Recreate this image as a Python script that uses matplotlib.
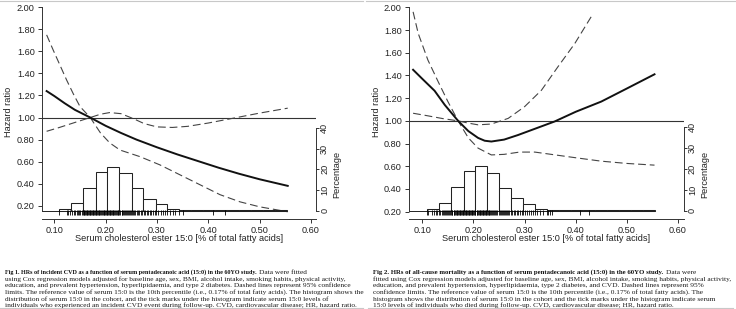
"""
Serum 15:0 vs hazard ratio - two panels with captions
"""

import matplotlib
matplotlib.use('Agg')
import matplotlib.pyplot as plt
from matplotlib.lines import Line2D

W, H = 736, 309
SANS = ['Liberation Sans', 'DejaVu Sans']
SERIF = ['Liberation Serif', 'DejaVu Serif']

plt.rcParams['font.family'] = SANS

# ---- data: Fig 1 (incident CVD) ----
cvd_hr_x = [0.085, 0.10, 0.12, 0.14, 0.17, 0.20, 0.23, 0.26, 0.30, 0.34, 0.38, 0.42, 0.46, 0.50, 0.555]
cvd_hr_y = [1.24, 1.195, 1.13, 1.07, 1.00, 0.925, 0.86, 0.80, 0.73, 0.665, 0.605, 0.545, 0.49, 0.44, 0.38]
cvd_ci1_x = [0.085, 0.098, 0.111, 0.124, 0.137, 0.15, 0.17, 0.19, 0.208, 0.228, 0.267, 0.306, 0.345, 0.384, 0.423, 0.462, 0.50, 0.555]
cvd_ci1_y = [1.75, 1.61, 1.475, 1.34, 1.215, 1.10, 1.00, 0.86, 0.77, 0.705, 0.645, 0.57, 0.48, 0.39, 0.30, 0.235, 0.19, 0.145]
cvd_ci2_x = [0.085, 0.11, 0.14, 0.17, 0.19, 0.208, 0.23, 0.254, 0.275, 0.30, 0.33, 0.36, 0.40, 0.45, 0.50, 0.555]
cvd_ci2_y = [0.875, 0.91, 0.955, 1.00, 1.03, 1.045, 1.035, 0.99, 0.945, 0.915, 0.91, 0.92, 0.95, 0.995, 1.04, 1.085]

# ---- data: Fig 2 (all-cause mortality) ----
mort_hr_x = [0.082, 0.10, 0.124, 0.144, 0.17, 0.19, 0.209, 0.222, 0.235, 0.26, 0.287, 0.32, 0.359, 0.40, 0.45, 0.50, 0.554]
mort_hr_y = [1.45, 1.37, 1.265, 1.14, 1.00, 0.91, 0.85, 0.825, 0.818, 0.835, 0.875, 0.93, 0.995, 1.08, 1.17, 1.285, 1.41]
mort_ci1_x = [0.082, 0.092, 0.111, 0.131, 0.15, 0.17, 0.19, 0.209, 0.235, 0.26, 0.29, 0.32, 0.36, 0.40, 0.45, 0.50, 0.554]
mort_ci1_y = [1.96, 1.77, 1.535, 1.345, 1.17, 1.00, 0.85, 0.76, 0.70, 0.705, 0.725, 0.725, 0.70, 0.675, 0.645, 0.625, 0.61]
mort_ci2_x = [0.082, 0.11, 0.14, 0.17, 0.19, 0.209, 0.235, 0.268, 0.30, 0.333, 0.365, 0.398, 0.432]
mort_ci2_y = [1.067, 1.045, 1.02, 1.00, 0.98, 0.965, 0.972, 1.022, 1.125, 1.27, 1.475, 1.68, 1.93]

# histogram of serum 15:0 (percent per bin)
bin_edges = [0.1097, 0.1326, 0.1565, 0.1807, 0.2033, 0.2267, 0.2509, 0.2735, 0.2977, 0.3203,
             0.3437, 0.3671, 0.3905, 0.4139, 0.4373, 0.4607, 0.4841, 0.5075, 0.5309, 0.5543]
cvd_pct = [0.7, 3.6, 10.8, 18.9, 21.3, 18.1, 10.8, 5.7, 3.2, 0.7, 0.4, 0.15, 0.15, 0.15, 0.4, 0.4, 0.15, 0.15, 0.4]
mort_pct = [0.8, 3.8, 11.1, 19.0, 21.3, 17.8, 10.6, 5.9, 3.2, 1.0, 0.5, 0.2, 0.15, 0.15, 0.4, 0.4, 0.4, 0.15, 0.4]

# rug: serum 15:0 of cases
cvd_rug = [0.110, 0.124, 0.127, 0.131, 0.135, 0.138, 0.141, 0.144, 0.146, 0.149, 0.151, 0.153, 0.155,
           0.157, 0.158, 0.160, 0.161, 0.163, 0.164, 0.166, 0.167, 0.169, 0.170, 0.172, 0.173, 0.175,
           0.176, 0.178, 0.179, 0.181, 0.182, 0.184, 0.185, 0.187, 0.188, 0.190, 0.191, 0.193, 0.194,
           0.196, 0.197, 0.199, 0.200, 0.202, 0.203, 0.205, 0.206, 0.208, 0.209, 0.211, 0.212, 0.214,
           0.215, 0.217, 0.218, 0.220, 0.222, 0.224, 0.225, 0.227, 0.229, 0.231, 0.232, 0.234, 0.236,
           0.238, 0.240, 0.242, 0.244, 0.246, 0.248, 0.250, 0.252, 0.254, 0.256, 0.258, 0.261, 0.263,
           0.266, 0.268, 0.271, 0.274, 0.277, 0.280, 0.283, 0.286, 0.289, 0.292, 0.296, 0.299, 0.303,
           0.307, 0.311, 0.316, 0.320, 0.325, 0.331, 0.336, 0.343, 0.351, 0.409, 0.432]
mort_rug = [0.109, 0.112, 0.118, 0.122, 0.126, 0.129, 0.132, 0.135, 0.138, 0.140, 0.143, 0.145, 0.147,
            0.149, 0.151, 0.153, 0.155, 0.156, 0.158, 0.159, 0.161, 0.162, 0.164, 0.165, 0.167, 0.168,
            0.170, 0.171, 0.173, 0.174, 0.176, 0.177, 0.179, 0.180, 0.182, 0.183, 0.185, 0.186, 0.188,
            0.189, 0.191, 0.192, 0.194, 0.195, 0.197, 0.198, 0.200, 0.201, 0.203, 0.204, 0.206, 0.207,
            0.209, 0.210, 0.212, 0.213, 0.215, 0.216, 0.218, 0.219, 0.221, 0.222, 0.224, 0.225, 0.227,
            0.228, 0.230, 0.231, 0.233, 0.235, 0.237, 0.239, 0.241, 0.243, 0.245, 0.247, 0.249, 0.251,
            0.253, 0.255, 0.257, 0.259, 0.261, 0.263, 0.265, 0.268, 0.270, 0.273, 0.276, 0.279, 0.282,
            0.285, 0.288, 0.291, 0.294, 0.297, 0.300, 0.304, 0.308, 0.312, 0.316, 0.320, 0.325, 0.330,
            0.336, 0.343, 0.345, 0.349, 0.353, 0.408, 0.425]

hr_ticks = [0.2, 0.4, 0.6, 0.8, 1.0, 1.2, 1.4, 1.6, 1.8, 2.0]
x_ticks = [0.1, 0.2, 0.3, 0.4, 0.5, 0.6]
pct_ticks = [0, 10, 20, 30, 40]

xlabel = 'Serum cholesterol ester 15:0 [% of total fatty acids]'

cap1_bold = 'Fig 1. HRs of incident CVD as a function of serum pentadecanoic acid (15:0) in the 60YO study.'
cap1_lines = [
    'Data were fitted',
    'using Cox regression models adjusted for baseline age, sex, BMI, alcohol intake, smoking habits, physical activity,',
    'education, and prevalent hypertension, hyperlipidaemia, and type 2 diabetes. Dashed lines represent 95% confidence',
    'limits. The reference value of serum 15:0 is the 10th percentile (i.e., 0.17% of total fatty acids). The histogram shows the',
    'distribution of serum 15:0 in the cohort, and the tick marks under the histogram indicate serum 15:0 levels of',
    'individuals who experienced an incident CVD event during follow-up. CVD, cardiovascular disease; HR, hazard ratio.',
]
cap2_bold = 'Fig 2. HRs of all-cause mortality as a function of serum pentadecanoic acid (15:0) in the 60YO study.'
cap2_lines = [
    'Data were',
    'fitted using Cox regression models adjusted for baseline age, sex, BMI, alcohol intake, smoking habits, physical activity,',
    'education, and prevalent hypertension, hyperlipidaemia, type 2 diabetes, and CVD. Dashed lines represent 95%',
    'confidence limits. The reference value of serum 15:0 is the 10th percentile (i.e., 0.17% of total fatty acids). The',
    'histogram shows the distribution of serum 15:0 in the cohort and the tick marks under the histogram indicate serum',
    '15:0 levels of individuals who died during follow-up. CVD, cardiovascular disease; HR, hazard ratio.',
]

AX_C = '#333333'
TXT_C = '#222222'

fig = plt.figure(figsize=(W / 100, H / 100), dpi=100)


def panel(left, right, xlim, ylim, pct_lim, base_hr, hr, ci1, ci2, pct, rug, ylab_x, pct_lab_x):
    top, bottom = 5, 219
    ax = fig.add_axes([left / W, 1 - bottom / H, (right - left) / W, (bottom - top) / H])
    ax.set_xlim(*xlim)
    ax.set_ylim(*ylim)
    ax.patch.set_alpha(0)

    ax.axhline(1.0, color=AX_C, lw=0.8, zorder=2)
    ax.plot(ci1[0], ci1[1], color='#444444', lw=0.8, dashes=(7, 3.5), zorder=3)
    ax.plot(ci2[0], ci2[1], color='#444444', lw=0.8, dashes=(7, 3.5), zorder=3)
    ax.plot(hr[0], hr[1], color='#111111', lw=1.4, zorder=4)

    for s in ['top', 'right']:
        ax.spines[s].set_visible(False)
    ax.spines['left'].set_bounds(base_hr, 2.0)
    for s in ['left', 'bottom']:
        ax.spines[s].set_color(AX_C)
        ax.spines[s].set_linewidth(0.7)

    ax.set_yticks(hr_ticks)
    ax.set_yticklabels([f'{v:.2f}' for v in hr_ticks])
    ax.set_xticks(x_ticks)
    ax.set_xticklabels([f'{v:.2f}' for v in x_ticks])
    ax.tick_params(axis='both', length=3, width=0.7, color=AX_C, labelsize=6.6, labelcolor=TXT_C, pad=2)

    # histogram on percentage scale
    ax2 = ax.twinx()
    ax2.set_ylim(*pct_lim)
    widths = [b - a for a, b in zip(bin_edges[:-1], bin_edges[1:])]
    ax2.bar(bin_edges[:-1], pct, width=widths, align='edge', color='white',
            edgecolor='#222222', linewidth=0.75, zorder=2)
    ax2.hlines(0, xlim[0], bin_edges[-1], color='#222222', lw=0.7, zorder=2)
    ax2.vlines(rug, -2.2, 0.2, color='#000000', lw=0.6, zorder=3)
    for s in ['top', 'left', 'bottom']:
        ax2.spines[s].set_visible(False)
    ax2.spines['right'].set_bounds(0, 40)
    ax2.spines['right'].set_color(AX_C)
    ax2.spines['right'].set_linewidth(0.7)
    ax2.set_yticks(pct_ticks)
    ax2.set_yticklabels([str(v) for v in pct_ticks], rotation=90, va='center')
    ax2.tick_params(axis='y', length=2.5, width=0.7, color=AX_C, labelsize=6.6, labelcolor=TXT_C, pad=0.5)

    fig.text(ylab_x / W, 1 - 112 / H, 'Hazard ratio', rotation=90, ha='center', va='center',
             fontsize=6.6, color=TXT_C)
    fig.text(pct_lab_x / W, 1 - 174 / H, 'Percentage', rotation=90, ha='center', va='center',
             fontsize=6.6, color=TXT_C)
    fig.text((left + 137.6) / W, 1 - 238.5 / H, xlabel, ha='center', va='center',
             fontsize=6.6, color=TXT_C)
    return ax


panel(41.7, 316, (0.0754, 0.6101), (0.0793, 2.021), (-4.015, 99.52), 0.1546,
      (cvd_hr_x, cvd_hr_y), (cvd_ci1_x, cvd_ci1_y), (cvd_ci2_x, cvd_ci2_y),
      cvd_pct, cvd_rug, 9, 337)
panel(408.7, 683.7, (0.0734, 0.6111), (0.1357, 2.0203), (-3.953, 97.96), 0.2088,
      (mort_hr_x, mort_hr_y), (mort_ci1_x, mort_ci1_y), (mort_ci2_x, mort_ci2_y),
      mort_pct, mort_rug, 376, 704.7)

renderer = fig.canvas.get_renderer()


def fit_width(t, target):
    w = t.get_window_extent(renderer).width
    t.set_fontsize(t.get_fontsize() * target / w)


def caption(x0, bold_w, text_w, bold, lines):
    y0 = 274.0
    step = 6.67
    tb = fig.text(x0 / W, 1 - y0 / H, bold, fontsize=4.7, fontweight='bold', family=SERIF,
                  va='baseline', color='#111111')
    fit_width(tb, bold_w)
    rest = [fig.text(x0 / W, 1 - (y0 + i * step) / H, s, fontsize=4.7, family=SERIF,
                     va='baseline', color='#1a1a1a') for i, s in enumerate(lines)]
    # scale regular lines together so the widest one spans the column
    widest = max(rest[1:], key=lambda t: t.get_window_extent(renderer).width)
    fit_width(widest, text_w)
    for t in rest:
        t.set_fontsize(widest.get_fontsize())
    rest[0].set_x((tb.get_window_extent(renderer).x1 + 2.5) / W)


caption(5, 252, 357, cap1_bold, cap1_lines)
caption(373, 292, 357, cap2_bold, cap2_lines)

# page rules
for xa, xb in [(0, 363), (366, 736)]:
    fig.add_artist(Line2D([xa / W, xb / W], [1 - 1 / H, 1 - 1 / H], color='#c8c8c8', lw=0.8))
for xa, xb in [(0, 363), (368, 733)]:
    fig.add_artist(Line2D([xa / W, xb / W], [1 - 307.5 / H, 1 - 307.5 / H], color='#c8c8c8', lw=0.8))

plt.savefig('out.png', dpi=100)
